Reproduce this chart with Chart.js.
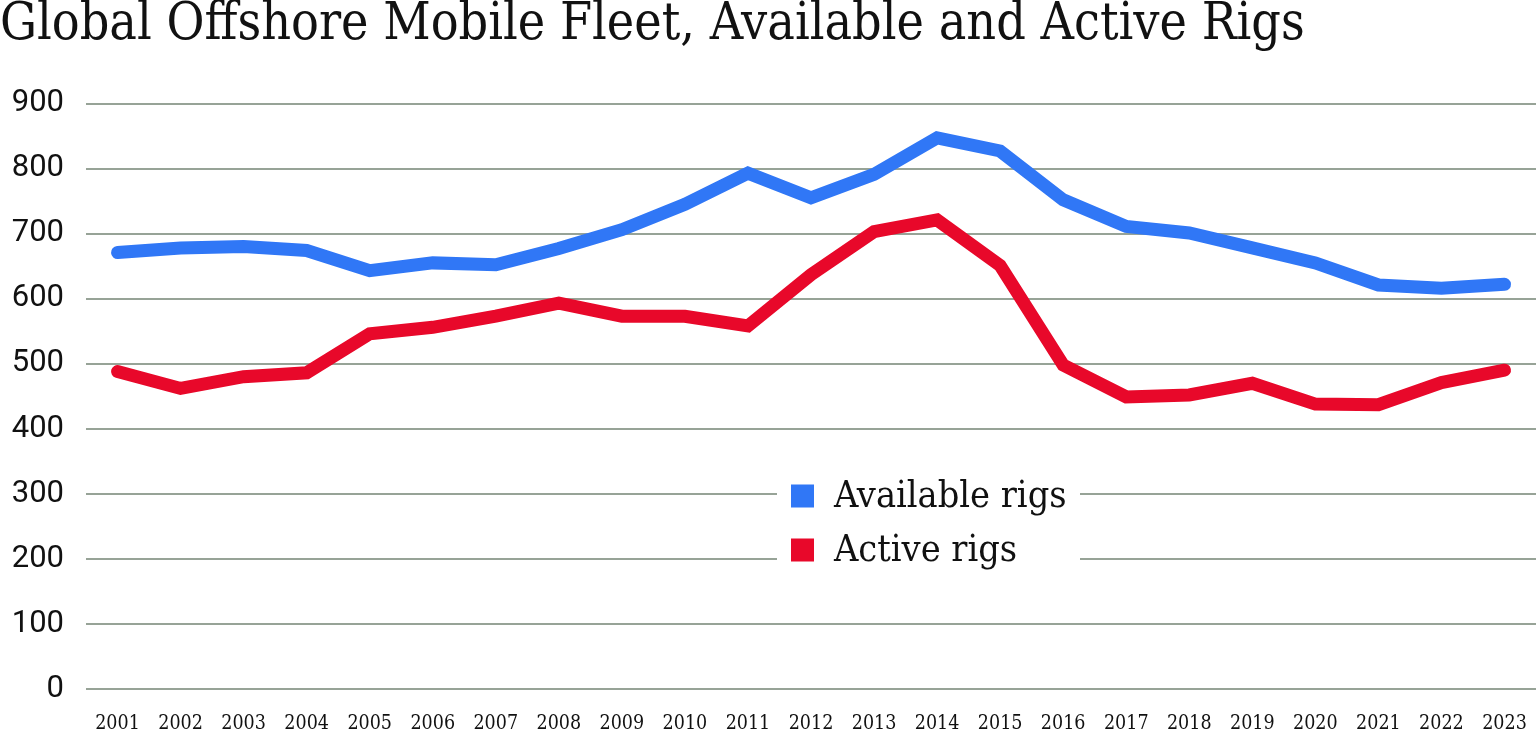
<!DOCTYPE html>
<html>
<head>
<meta charset="utf-8">
<script src="https://cdn.jsdelivr.net/npm/chart.js@4"></script>
<style>
  html, body { margin: 0; padding: 0; background: #ffffff; }
  #wrap { width: 1536px; height: 732px; }
</style>
</head>
<body>
<div id="wrap"><canvas id="c" width="1536" height="732"></canvas></div>
<script>
const titleText = 'Global Offshore Mobile Fleet, Available and Active Rigs';
const years = ['2001','2002','2003','2004','2005','2006','2007','2008','2009','2010','2011','2012','2013','2014','2015','2016','2017','2018','2019','2020','2021','2022','2023'];
const availableRigs = [671, 678, 680, 674, 643, 655, 652, 677, 706, 745, 793, 755, 791, 847, 827, 752, 711, 701, 678, 655, 621, 616, 622];
const activeRigs = [488, 462, 480, 486, 546, 556, 573, 593, 573, 573, 558, 637, 703, 721, 651, 498, 449, 452, 470, 438, 437, 471, 490];
const seriesNames = ['Available rigs', 'Active rigs'];
const seriesColors = ['#3077f6', '#e8082a'];
const yTicks = [0, 100, 200, 300, 400, 500, 600, 700, 800, 900];

const SLAB = '"DejaVu Serif Condensed", "DejaVu Serif", serif';

const insideLegend = {
  id: 'insideLegend',
  afterDatasetsDraw(chart, args, opts) {
    const ctx = chart.ctx;
    ctx.save();
    ctx.fillStyle = '#ffffff';
    ctx.fillRect(opts.x, opts.y, opts.w, opts.h);
    ctx.font = opts.fontSize + 'px ' + SLAB;
    ctx.textBaseline = 'middle';
    ctx.textAlign = 'left';
    chart.data.datasets.forEach((ds, i) => {
      const cy = opts.firstRowY + i * opts.rowGap;
      ctx.fillStyle = ds.borderColor;
      ctx.fillRect(opts.boxX, cy - opts.box / 2, opts.box, opts.box);
      ctx.fillStyle = '#111111';
      ctx.fillText(ds.label, opts.textX, cy + 1);
    });
    ctx.restore();
  }
};

new Chart(document.getElementById('c'), {
  type: 'line',
  data: {
    labels: years,
    datasets: [
      { label: seriesNames[0], data: availableRigs, borderColor: seriesColors[0], backgroundColor: seriesColors[0] },
      { label: seriesNames[1], data: activeRigs, borderColor: seriesColors[1], backgroundColor: seriesColors[1] }
    ]
  },
  options: {
    responsive: false,
    devicePixelRatio: 1,
    animation: false,
    layout: { padding: { left: 0, right: 0, top: 0, bottom: 1 } },
    elements: {
      line: { borderWidth: 13, tension: 0, borderCapStyle: 'round', borderJoinStyle: 'miter' },
      point: { radius: 0, hoverRadius: 0 }
    },
    plugins: {
      legend: { display: false },
      tooltip: { enabled: false },
      title: {
        display: true,
        text: titleText,
        align: 'start',
        color: '#111111',
        font: { family: SLAB, size: 51.5, weight: 'normal', lineHeight: 1.0 },
        padding: { top: 0, bottom: 52 }
      },
      insideLegend: {
        x: 777, y: 468, w: 303, h: 108,
        boxX: 791, box: 23, textX: 834,
        firstRowY: 496, rowGap: 54, fontSize: 37.5
      }
    },
    scales: {
      x: {
        offset: true,
        grid: { display: false },
        border: { display: false },
        afterFit(axis) { axis.height = 42; axis.paddingLeft = 0; axis.paddingRight = 0; },
        ticks: {
          color: '#111111',
          autoSkip: false,
          maxRotation: 0,
          padding: 15,
          font: { family: SLAB, size: 19.5 }
        }
      },
      y: {
        min: 0,
        max: 900,
        afterBuildTicks(axis) { axis.ticks = yTicks.map(v => ({ value: v })); },
        afterFit(axis) { axis.width = 86; axis.paddingTop = 0; axis.paddingBottom = 0; },
        grid: { color: '#97a397', lineWidth: 2, drawTicks: false },
        border: { display: false },
        ticks: {
          color: '#111111',
          padding: 22,
          font: { family: 'Roboto, sans-serif', size: 31 }
        }
      }
    }
  },
  plugins: [insideLegend]
});
</script>
</body>
</html>
